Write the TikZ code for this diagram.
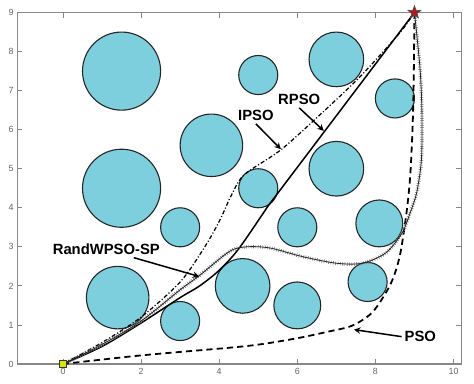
\documentclass[tikz,border=0pt]{standalone}
\usepackage{fontspec}
\setmainfont{Liberation Sans}
\usepackage{tikz}
\usetikzlibrary{shapes.geometric, arrows}

\definecolor{obstblue}{RGB}{125,207,221}
\definecolor{axisgray}{RGB}{135,135,135}
\definecolor{startyellow}{RGB}{214,228,0}
\definecolor{goalred}{RGB}{175,25,25}

\begin{document}
\begin{tikzpicture}[
    obstacle/.style={
        circle,
        draw=black!85,
        line width=0.8pt,
        fill=obstblue,
        inner sep=0pt,
        minimum size=#1
    },
    tick/.style={draw=axisgray, line width=0.6pt},
    ticklabel/.style={text=black!60, font=\fontsize{6.5}{7}\selectfont, inner sep=1pt},
    algo/.style={font=\fontsize{10.8}{13}\selectfont\bfseries, inner sep=2pt},
    arrow/.style={->, >=stealth, line width=1.1pt},
    pso/.style={line width=1.3pt, dash pattern=on 4.5pt off 3pt},
    ipso/.style={line width=0.9pt, dash pattern=on 3pt off 1.5pt on 0.8pt off 1.5pt},
    rpso/.style={line width=1.1pt},
    randw/.style={
        draw=black!85,
        line width=0.6pt,
        preaction={draw=black!55, line width=2.6pt, dash pattern=on 0.4pt off 1.3pt}
    }
]
    \useasboundingbox (-1.613,-0.487) rectangle (10.525,9.321);

    % axes box and ticks
    \draw[axisgray, line width=0.8pt] (-1.17,0) rectangle (10.2,9);
    \foreach \x in {0,2,...,10} {
        \draw[tick] (\x,0) -- ++(0,0.13);
        \draw[tick] (\x,9) -- ++(0,-0.13);
        \node[ticklabel, below] (xl\x) at (\x,-0.06) {\x};
    }
    \foreach \y in {0,...,9} {
        \draw[tick] (-1.17,\y) -- ++(0.13,0);
        \draw[tick] (10.2,\y) -- ++(-0.13,0);
        \node[ticklabel, left] (yl\y) at (-1.22,\y) {\y};
    }

    % obstacles
    \foreach \cx/\cy/\d [count=\i] in {1.5/7.5/2cm, 1.5/4.5/2cm, 1.4/1.7/1.6cm,
            3/3.5/1cm, 3/1.1/1cm, 3.8/5.6/1.6cm, 5/7.4/1cm, 5/4.5/1cm,
            4.6/2/1.4cm, 6/3.5/1cm, 6/1.5/1.2cm, 7/7.8/1.4cm, 7/5/1.4cm,
            8.5/6.8/1cm, 8.1/3.6/1.2cm, 7.8/2.1/1cm}
        \node[obstacle=\d] (obs\i) at (\cx,\cy) {};

    \coordinate (startpt) at (0,0);
    \coordinate (goalpt) at (9,9);

    % paths
    \draw[pso] plot[smooth] coordinates {(startpt) (2,0.22) (4.3,0.42) (5.1,0.51)
        (6,0.66) (6.8,0.83) (7.4,0.98) (7.9,1.3) (8.26,1.81) (8.47,2.24) (8.64,2.84)
        (8.8,3.9) (8.89,4.8) (8.95,6.0) (8.98,7.2) (goalpt)};
    \draw[ipso] plot[smooth] coordinates {(startpt) (1,0.55) (2,1.2) (3,2.1) (3.6,2.95)
        (4.0,3.65) (4.3,4.3) (4.55,4.75) (4.85,5.0) (5.6,5.5) (6.6,6.4) (7.6,7.35)
        (8.6,8.45) (goalpt)};
    \draw[rpso] plot[smooth] coordinates {(startpt) (1,0.45) (2,1.05) (3,1.7) (3.5,2.0)
        (4,2.4) (4.5,2.95) (5.24,4.03)} -- (goalpt);
    \draw[randw] plot[smooth] coordinates {(startpt) (1,0.5) (2,1.1) (3,1.9) (3.5,2.27)
        (4.26,2.88) (4.7,3.0) (5.3,2.97) (6.13,2.75) (7,2.58) (7.66,2.58) (8.26,2.84)
        (8.68,3.35) (8.9,3.9) (9.06,4.4) (9.18,5.25) (9.19,6.5) (9.14,7.6) (goalpt)};

    % start and goal
    \node[rectangle, fill=startyellow, draw=black!80, line width=0.6pt,
        minimum size=0.2cm, inner sep=0pt] (start) at (startpt) {};
    \node[star, star points=5, star point ratio=2.4, fill=goalred, draw=black!70,
        line width=0.5pt, minimum size=0.34cm, inner sep=0pt] (goal) at (goalpt) {};

    % labels
    \node[algo] (ipsolbl) at (4.94,6.36) {IPSO};
    \node[algo] (rpsolbl) at (6.05,6.77) {RPSO};
    \node[algo] (randwlbl) at (1.11,2.94) {RandWPSO-SP};
    \node[algo] (psolbl) at (9.15,0.70) {PSO};

    \coordinate (ipsotip) at (5.58,5.5);
    \coordinate (rpsotip) at (6.68,5.97);
    \coordinate (randwtip) at (3.49,2.24);
    \coordinate (psotip) at (7.45,0.88);

    \draw[arrow] (ipsolbl.south) -- (ipsotip);
    \draw[arrow] (rpsolbl.south) -- (rpsotip);
    \draw[arrow] ([xshift=20pt]randwlbl.south) -- (randwtip);
    \draw[arrow] (psolbl.west) -- (psotip);
\end{tikzpicture}
\end{document}
